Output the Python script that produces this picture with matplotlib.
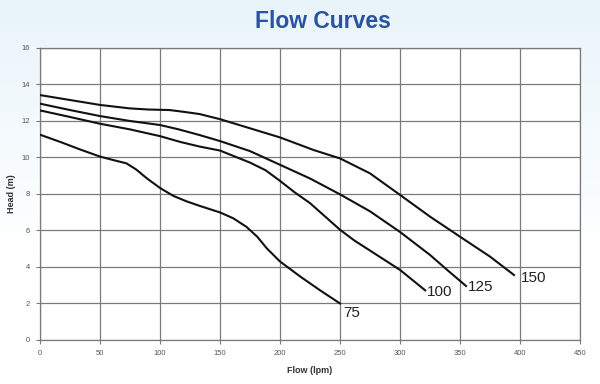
"""Flow curves (head vs flow) for four pump sizes, redrawn as a static png."""
import matplotlib

matplotlib.use("Agg")
import matplotlib.pyplot as plt
import numpy as np

plt.rcParams["font.family"] = ["Liberation Sans", "DejaVu Sans"]

# valores
flow_150 = [0, 25, 50, 75, 90, 108, 120, 133, 150, 165, 180, 200, 228, 250, 275, 300, 325, 350, 375, 395]
head_150 = [13.42, 13.15, 12.88, 12.69, 12.63, 12.6, 12.5, 12.38, 12.1, 11.8, 11.5, 11.1, 10.41, 9.95, 9.13,
            7.95, 6.76, 5.66, 4.57, 3.56]

flow_125 = [0, 25, 50, 75, 100, 115, 133, 150, 175, 200, 225, 250, 275, 300, 325, 340, 355]
head_125 = [12.95, 12.6, 12.27, 12.0, 11.78, 11.55, 11.23, 10.9, 10.35, 9.6, 8.85, 7.98, 7.05, 5.92, 4.66,
            3.8, 2.96]

flow_100 = [0, 25, 50, 75, 100, 117, 133, 150, 175, 188, 200, 212, 225, 237, 250, 262, 275, 300, 321]
head_100 = [12.58, 12.22, 11.85, 11.54, 11.17, 10.85, 10.6, 10.38, 9.72, 9.3, 8.72, 8.1, 7.5, 6.8, 6.04,
            5.45, 4.9, 3.84, 2.72]

flow_75 = [0, 17, 33, 50, 61, 72, 80, 89, 100, 111, 122, 133, 150, 161, 172, 181, 189, 200, 217, 233, 250]
head_75 = [11.25, 10.85, 10.45, 10.05, 9.86, 9.68, 9.35, 8.86, 8.33, 7.9, 7.6, 7.35, 6.99, 6.67, 6.2, 5.66,
           5.02, 4.3, 3.47, 2.74, 2.0]

curve_names = ["150", "125", "100", "75"]
x_ticks = [0, 50, 100, 150, 200, 250, 300, 350, 400, 450]
y_ticks = [0, 2, 4, 6, 8, 10, 12, 14, 16]


def main() -> None:
    fig = plt.figure(figsize=(6.0, 3.84), dpi=100)

    # fondo con degradado celeste muy suave arriba
    bg = fig.add_axes([0, 0, 1, 1], zorder=-10)
    grad = np.linspace(0.0, 1.0, 256)[:, None]
    bg.imshow(grad, aspect="auto", extent=[0, 1, 0, 1], origin="lower",
              cmap=matplotlib.colors.LinearSegmentedColormap.from_list(
                  "bg", ["#ffffff", "#ffffff", "#f4fafd", "#e8f4fa"]))
    bg.set_axis_off()

    ax = fig.add_axes([0.0667, 0.1146, 0.9, 0.7604])
    ax.set_facecolor("white")

    curves = [
        (flow_150, head_150, (5, -2)),
        (flow_125, head_125, (1.5, -1)),
        (flow_100, head_100, (1.5, -1)),
        (flow_75, head_75, (2, -7)),
    ]
    for (fx, hy, off), name in zip(curves, curve_names):
        ax.plot(fx, hy, color="#111111", lw=1.5, solid_joinstyle="round", zorder=3)
        ax.annotate(name, (fx[-1], hy[-1]), xytext=off, textcoords="offset points",
                    ha="left", va="center", fontsize=11, color="#222222")

    ax.set_xlim(0, 450)
    ax.set_ylim(0, 16)
    ax.set_xticks(x_ticks)
    ax.set_yticks(y_ticks)
    ax.grid(True, color="#7a7a7a", lw=0.9)
    ax.set_axisbelow(True)
    for sp in ax.spines.values():
        sp.set_color("#7a7a7a")
        sp.set_linewidth(0.9)
    ax.tick_params(length=3, width=0.8, color="#7a7a7a", labelsize=5.5,
                   labelcolor="#555555", pad=4)

    ax.set_xlabel("Flow (lpm)", fontsize=6.5, fontweight="bold", color="#333333", labelpad=7)
    ax.set_ylabel("Head (m)", fontsize=6.5, fontweight="bold", color="#333333", labelpad=4)

    fig.text(0.538, 0.945, "Flow Curves", ha="center", va="center",
             fontsize=16.5, fontweight="bold", color="#2b52a0")

    fig.savefig("out.png", dpi=100)
    plt.close(fig)


if __name__ == "__main__":
    main()
